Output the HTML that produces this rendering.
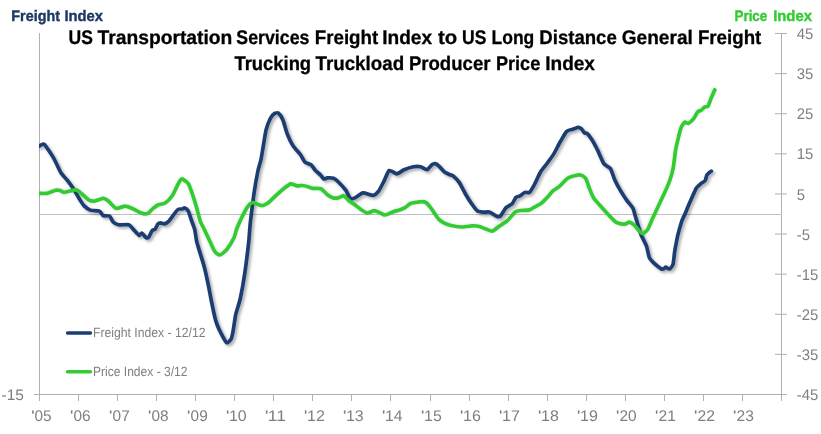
<!DOCTYPE html>
<html lang="en"><head><meta charset="utf-8"><title>Freight Index vs Price Index</title>
<style>
html,body{margin:0;padding:0;background:#fff;}
body{width:821px;height:434px;overflow:hidden;}
svg{display:block;font-family:"Liberation Sans",sans-serif;text-rendering:geometricPrecision;}
.ax{stroke:#b0b0b0;stroke-width:1;fill:none;shape-rendering:crispEdges;}
.lbl{fill:#7f7f7f;font-size:15.4px;}
.leg{fill:#7f7f7f;font-size:13.4px;}
.ttl{fill:#000;font-weight:bold;font-size:19.6px;stroke:#000;stroke-width:0.3px;}
.ln{fill:none;stroke-width:3.7;stroke-linejoin:round;stroke-linecap:round;}
</style></head><body>
<svg width="821" height="434" viewBox="0 0 821 434">
<defs><filter id="sh" filterUnits="userSpaceOnUse" x="0" y="0" width="821" height="434"><feGaussianBlur in="SourceAlpha" stdDeviation="1.4"/><feOffset dx="2.1" dy="2.1"/><feComponentTransfer><feFuncA type="linear" slope="0.34"/></feComponentTransfer><feMerge><feMergeNode/><feMergeNode in="SourceGraphic"/></feMerge></filter><filter id="gl" filterUnits="userSpaceOnUse" x="0" y="0" width="821" height="434"><feGaussianBlur in="SourceAlpha" stdDeviation="1.6"/><feComponentTransfer><feFuncA type="linear" slope="0.16"/></feComponentTransfer><feMerge><feMergeNode/><feMergeNode in="SourceGraphic"/></feMerge></filter></defs>
<clipPath id="cp"><rect x="39" y="0" width="782" height="434"/></clipPath>
<rect width="821" height="434" fill="#fff"/>

<g class="ax">
<line x1="39.5" y1="33" x2="39.5" y2="400.5"/>
<line x1="34" y1="394.5" x2="787" y2="394.5"/>
<line x1="781.5" y1="33" x2="781.5" y2="400.5"/>
<line x1="39.5" y1="214.5" x2="781.5" y2="214.5" stroke="#c0c0c0"/>
<line x1="78.5" y1="394.5" x2="78.5" y2="400.5"/>
<line x1="117.5" y1="394.5" x2="117.5" y2="400.5"/>
<line x1="156.5" y1="394.5" x2="156.5" y2="400.5"/>
<line x1="195.5" y1="394.5" x2="195.5" y2="400.5"/>
<line x1="234.5" y1="394.5" x2="234.5" y2="400.5"/>
<line x1="273.5" y1="394.5" x2="273.5" y2="400.5"/>
<line x1="312.5" y1="394.5" x2="312.5" y2="400.5"/>
<line x1="351.5" y1="394.5" x2="351.5" y2="400.5"/>
<line x1="390.5" y1="394.5" x2="390.5" y2="400.5"/>
<line x1="430.5" y1="394.5" x2="430.5" y2="400.5"/>
<line x1="469.5" y1="394.5" x2="469.5" y2="400.5"/>
<line x1="508.5" y1="394.5" x2="508.5" y2="400.5"/>
<line x1="547.5" y1="394.5" x2="547.5" y2="400.5"/>
<line x1="586.5" y1="394.5" x2="586.5" y2="400.5"/>
<line x1="625.5" y1="394.5" x2="625.5" y2="400.5"/>
<line x1="664.5" y1="394.5" x2="664.5" y2="400.5"/>
<line x1="703.5" y1="394.5" x2="703.5" y2="400.5"/>
<line x1="742.5" y1="394.5" x2="742.5" y2="400.5"/>
</g>
<g stroke="#b0b0b0" stroke-width="1" fill="none">
<line x1="775" y1="33.50" x2="787" y2="33.50"/>
<line x1="775" y1="73.61" x2="787" y2="73.61"/>
<line x1="775" y1="113.72" x2="787" y2="113.72"/>
<line x1="775" y1="153.83" x2="787" y2="153.83"/>
<line x1="775" y1="193.94" x2="787" y2="193.94"/>
<line x1="775" y1="234.05" x2="787" y2="234.05"/>
<line x1="775" y1="274.16" x2="787" y2="274.16"/>
<line x1="775" y1="314.27" x2="787" y2="314.27"/>
<line x1="775" y1="354.38" x2="787" y2="354.38"/>
</g>
<text class="lbl" x="796.8" y="39.1" textLength="16.6" lengthAdjust="spacingAndGlyphs">45</text>
<text class="lbl" x="796.8" y="79.2" textLength="16.6" lengthAdjust="spacingAndGlyphs">35</text>
<text class="lbl" x="796.8" y="119.3" textLength="16.6" lengthAdjust="spacingAndGlyphs">25</text>
<text class="lbl" x="796.8" y="159.4" textLength="16.6" lengthAdjust="spacingAndGlyphs">15</text>
<text class="lbl" x="796.8" y="199.5" textLength="8.3" lengthAdjust="spacingAndGlyphs">5</text>
<text class="lbl" x="796.8" y="239.7" textLength="13.2" lengthAdjust="spacingAndGlyphs">-5</text>
<text class="lbl" x="796.8" y="279.8" textLength="21.5" lengthAdjust="spacingAndGlyphs">-15</text>
<text class="lbl" x="796.8" y="319.9" textLength="21.5" lengthAdjust="spacingAndGlyphs">-25</text>
<text class="lbl" x="796.8" y="360.0" textLength="21.5" lengthAdjust="spacingAndGlyphs">-35</text>
<text class="lbl" x="796.8" y="400.1" textLength="21.5" lengthAdjust="spacingAndGlyphs">-45</text>
<text font-size="15.2" fill="#7f7f7f"><tspan x="1.58" y="400.2" textLength="22.34" lengthAdjust="spacingAndGlyphs">-15</tspan></text>
<text class="lbl"><tspan x="30.90" y="421.2" textLength="3.82" lengthAdjust="spacingAndGlyphs">'</tspan><tspan x="34.56" y="421.2" textLength="17.09" lengthAdjust="spacingAndGlyphs">05</tspan></text>
<text class="lbl"><tspan x="69.89" y="421.2" textLength="3.82" lengthAdjust="spacingAndGlyphs">'</tspan><tspan x="73.57" y="421.2" textLength="17.09" lengthAdjust="spacingAndGlyphs">06</tspan></text>
<text class="lbl"><tspan x="108.88" y="421.2" textLength="3.82" lengthAdjust="spacingAndGlyphs">'</tspan><tspan x="112.58" y="421.2" textLength="17.17" lengthAdjust="spacingAndGlyphs">07</tspan></text>
<text class="lbl"><tspan x="147.87" y="421.2" textLength="3.82" lengthAdjust="spacingAndGlyphs">'</tspan><tspan x="151.59" y="421.2" textLength="17.09" lengthAdjust="spacingAndGlyphs">08</tspan></text>
<text class="lbl"><tspan x="186.86" y="421.2" textLength="3.82" lengthAdjust="spacingAndGlyphs">'</tspan><tspan x="190.60" y="421.2" textLength="17.17" lengthAdjust="spacingAndGlyphs">09</tspan></text>
<text class="lbl"><tspan x="225.85" y="421.2" textLength="3.82" lengthAdjust="spacingAndGlyphs">'</tspan><tspan x="228.96" y="421.2" textLength="17.69" lengthAdjust="spacingAndGlyphs">10</tspan></text>
<text class="lbl"><tspan x="264.84" y="421.2" textLength="3.82" lengthAdjust="spacingAndGlyphs">'</tspan><tspan x="267.86" y="421.2" textLength="18.04" lengthAdjust="spacingAndGlyphs">11</tspan></text>
<text class="lbl"><tspan x="303.83" y="421.2" textLength="3.82" lengthAdjust="spacingAndGlyphs">'</tspan><tspan x="306.97" y="421.2" textLength="17.86" lengthAdjust="spacingAndGlyphs">12</tspan></text>
<text class="lbl"><tspan x="342.82" y="421.2" textLength="3.82" lengthAdjust="spacingAndGlyphs">'</tspan><tspan x="345.98" y="421.2" textLength="17.78" lengthAdjust="spacingAndGlyphs">13</tspan></text>
<text class="lbl"><tspan x="381.81" y="421.2" textLength="3.82" lengthAdjust="spacingAndGlyphs">'</tspan><tspan x="385.01" y="421.2" textLength="17.51" lengthAdjust="spacingAndGlyphs">14</tspan></text>
<text class="lbl"><tspan x="420.80" y="421.2" textLength="3.82" lengthAdjust="spacingAndGlyphs">'</tspan><tspan x="424.00" y="421.2" textLength="17.78" lengthAdjust="spacingAndGlyphs">15</tspan></text>
<text class="lbl"><tspan x="459.79" y="421.2" textLength="3.82" lengthAdjust="spacingAndGlyphs">'</tspan><tspan x="463.01" y="421.2" textLength="17.78" lengthAdjust="spacingAndGlyphs">16</tspan></text>
<text class="lbl"><tspan x="498.78" y="421.2" textLength="3.82" lengthAdjust="spacingAndGlyphs">'</tspan><tspan x="502.02" y="421.2" textLength="17.86" lengthAdjust="spacingAndGlyphs">17</tspan></text>
<text class="lbl"><tspan x="537.77" y="421.2" textLength="3.82" lengthAdjust="spacingAndGlyphs">'</tspan><tspan x="541.03" y="421.2" textLength="17.78" lengthAdjust="spacingAndGlyphs">18</tspan></text>
<text class="lbl"><tspan x="576.76" y="421.2" textLength="3.82" lengthAdjust="spacingAndGlyphs">'</tspan><tspan x="580.04" y="421.2" textLength="17.86" lengthAdjust="spacingAndGlyphs">19</tspan></text>
<text class="lbl"><tspan x="615.75" y="421.2" textLength="3.82" lengthAdjust="spacingAndGlyphs">'</tspan><tspan x="619.47" y="421.2" textLength="17.25" lengthAdjust="spacingAndGlyphs">20</tspan></text>
<text class="lbl"><tspan x="654.74" y="421.2" textLength="3.82" lengthAdjust="spacingAndGlyphs">'</tspan><tspan x="658.48" y="421.2" textLength="17.42" lengthAdjust="spacingAndGlyphs">21</tspan></text>
<text class="lbl"><tspan x="693.73" y="421.2" textLength="3.82" lengthAdjust="spacingAndGlyphs">'</tspan><tspan x="697.49" y="421.2" textLength="17.42" lengthAdjust="spacingAndGlyphs">22</tspan></text>
<text class="lbl"><tspan x="732.72" y="421.2" textLength="3.82" lengthAdjust="spacingAndGlyphs">'</tspan><tspan x="736.50" y="421.2" textLength="17.34" lengthAdjust="spacingAndGlyphs">23</tspan></text>
<text font-size="15.2" fill="#1f3864" stroke="#1f3864" stroke-width="0.4" font-weight="bold"><tspan x="11.37" y="21.3" textLength="48.56" lengthAdjust="spacingAndGlyphs">Freight</tspan> <tspan x="64.44" y="21.3" textLength="38.56" lengthAdjust="spacingAndGlyphs">Index</tspan></text>
<text font-size="15.2" fill="#33cc33" stroke="#33cc33" stroke-width="0.4" font-weight="bold"><tspan x="734.43" y="20.8" textLength="32.90" lengthAdjust="spacingAndGlyphs">Price</tspan> <tspan x="773.14" y="20.8" textLength="38.77" lengthAdjust="spacingAndGlyphs">Index</tspan></text>
<text class="ttl"><tspan x="68.5" y="43.7" textLength="24.4" lengthAdjust="spacingAndGlyphs">US</tspan> <tspan x="97.5" y="43.7" textLength="134.9" lengthAdjust="spacingAndGlyphs">Transportation</tspan> <tspan x="236.3" y="43.7" textLength="73.1" lengthAdjust="spacingAndGlyphs">Services</tspan> <tspan x="314.8" y="43.7" textLength="63.4" lengthAdjust="spacingAndGlyphs">Freight</tspan> <tspan x="382.2" y="43.7" textLength="49.9" lengthAdjust="spacingAndGlyphs">Index</tspan> <tspan x="438.0" y="43.7" textLength="19.2" lengthAdjust="spacingAndGlyphs">to</tspan> <tspan x="462.1" y="43.7" textLength="24.4" lengthAdjust="spacingAndGlyphs">US</tspan> <tspan x="491.5" y="43.7" textLength="42.8" lengthAdjust="spacingAndGlyphs">Long</tspan> <tspan x="539.3" y="43.7" textLength="77.5" lengthAdjust="spacingAndGlyphs">Distance</tspan> <tspan x="621.8" y="43.7" textLength="71.0" lengthAdjust="spacingAndGlyphs">General</tspan> <tspan x="697.9" y="43.7" textLength="63.4" lengthAdjust="spacingAndGlyphs">Freight</tspan></text>
<text class="ttl"><tspan x="234.5" y="69.8" textLength="76.6" lengthAdjust="spacingAndGlyphs">Trucking</tspan> <tspan x="315.5" y="69.8" textLength="88.6" lengthAdjust="spacingAndGlyphs">Truckload</tspan> <tspan x="408.9" y="69.8" textLength="81.6" lengthAdjust="spacingAndGlyphs">Producer</tspan> <tspan x="495.9" y="69.8" textLength="44.4" lengthAdjust="spacingAndGlyphs">Price</tspan> <tspan x="545.2" y="69.8" textLength="49.8" lengthAdjust="spacingAndGlyphs">Index</tspan></text>
<line x1="67.6" y1="333" x2="90.4" y2="333" stroke="#1c3d72" stroke-width="3.6" stroke-linecap="round"/>
<line x1="67.6" y1="371.7" x2="90.4" y2="371.7" stroke="#33cc33" stroke-width="3.6" stroke-linecap="round"/>
<text class="leg" x="93" y="337" textLength="112.5" lengthAdjust="spacingAndGlyphs">Freight Index - 12/12</text>
<text class="leg" x="93" y="375.7" textLength="94.5" lengthAdjust="spacingAndGlyphs">Price Index - 3/12</text>
<g filter="url(#sh)" clip-path="url(#cp)"><path class="ln" stroke="#1c3d72" d="M39.5,146.0C40.0,145.8 42.9,143.1 44.3,144.3C45.7,145.5 52.2,155.5 53.8,158.3C55.4,161.1 59.4,170.2 60.7,172.4C62.0,174.6 65.9,178.5 67.2,180.2C68.5,181.9 72.7,187.6 73.9,189.5C75.1,191.4 78.3,197.2 79.3,198.8C80.3,200.4 82.8,204.5 83.9,205.6C85.0,206.7 88.8,209.5 90.3,210.1C91.8,210.7 98.1,210.5 99.4,211.1C100.7,211.7 102.1,215.1 103.1,215.6C104.1,216.1 108.5,215.4 109.5,216.0C110.5,216.6 112.2,221.1 113.1,222.0C114.0,222.9 117.0,224.5 118.6,224.8C120.2,225.1 127.1,224.3 128.7,224.8C130.2,225.3 133.1,229.1 134.1,230.2C135.1,231.3 138.3,235.1 139.1,235.4C139.9,235.7 141.1,232.8 141.8,233.0C142.5,233.2 145.3,237.2 146.0,237.6C146.7,238.0 148.2,237.7 148.8,237.0C149.4,236.3 151.4,231.6 152.0,230.8C152.6,230.0 154.6,229.7 155.2,229.0C155.8,228.3 157.4,224.5 157.9,223.9C158.4,223.3 160.0,222.9 160.6,222.9C161.2,222.9 163.5,224.1 164.3,223.9C165.1,223.7 167.9,222.1 168.9,221.1C169.9,220.1 173.4,215.0 174.3,213.8C175.2,212.6 177.5,209.8 178.3,209.3C179.1,208.8 181.3,209.1 181.9,209.0C182.5,208.9 184.1,207.7 184.7,207.9C185.3,208.1 187.7,210.0 188.3,211.2C188.9,212.3 190.5,217.6 191.1,219.4C191.7,221.2 194.1,227.1 194.7,229.4C195.3,231.7 195.9,238.4 196.8,242.0C197.7,245.6 202.6,260.9 203.8,265.2C205.0,269.5 207.7,281.9 208.4,285.3C209.1,288.7 210.4,296.1 211.1,299.6C211.8,303.1 214.9,317.6 215.7,320.6C216.5,323.6 218.2,327.6 219.3,329.8C220.4,332.0 225.4,341.7 226.6,342.6C227.8,343.5 230.6,340.0 231.2,338.9C231.8,337.8 232.5,334.1 233.0,331.6C233.5,329.1 235.1,317.5 235.8,314.2C236.5,310.9 239.4,302.7 240.3,298.5C241.2,294.3 244.1,278.0 244.9,272.5C245.7,267.0 248.0,248.4 248.6,243.3C249.2,238.2 249.8,227.0 250.4,222.0C251.0,217.0 253.3,198.0 254.1,192.9C254.8,187.8 257.2,174.4 257.9,171.0C258.6,167.6 260.4,162.6 261.2,158.5C262.0,154.4 265.1,134.1 266.0,130.1C266.9,126.1 269.5,120.2 270.3,118.5C271.1,116.8 273.5,114.1 274.3,113.6C275.1,113.1 277.7,112.6 278.6,113.3C279.5,114.0 282.0,118.0 282.9,120.1C283.8,122.2 286.5,132.1 287.5,134.7C288.5,137.3 291.7,143.7 293.0,145.7C294.3,147.7 299.1,152.9 300.3,154.5C301.5,156.1 303.7,160.9 304.8,162.0C305.9,163.1 310.2,164.2 311.2,165.0C312.2,165.8 314.3,169.2 315.2,170.2C316.1,171.2 319.5,174.0 320.4,174.9C321.3,175.8 323.1,178.7 323.8,179.0C324.5,179.3 326.4,178.0 327.4,177.9C328.4,177.8 332.4,177.9 333.5,178.3C334.6,178.7 337.2,180.8 338.4,182.0C339.6,183.2 344.5,188.6 345.7,190.2C346.9,191.8 349.3,197.6 350.2,198.4C351.1,199.2 353.5,198.5 354.8,197.9C356.1,197.3 361.2,193.2 363.0,192.9C364.8,192.6 371.5,195.5 373.1,195.3C374.7,195.1 377.5,192.5 378.6,191.1C379.7,189.7 382.9,183.2 384.0,181.1C385.1,179.0 387.9,171.2 389.2,170.5C390.5,169.8 395.3,173.9 396.8,173.8C398.3,173.7 402.5,170.4 404.1,169.7C405.8,169.0 411.7,167.1 413.3,166.8C414.9,166.5 419.2,166.5 420.6,166.8C422.0,167.1 425.9,169.9 427.0,169.7C428.1,169.5 430.8,165.6 431.6,165.0C432.4,164.4 434.5,163.6 435.2,163.7C435.9,163.8 438.0,165.3 438.9,166.1C439.8,166.9 443.2,171.0 444.3,171.9C445.4,172.8 449.1,174.3 450.0,174.7C450.9,175.1 452.8,175.5 453.7,176.3C454.6,177.1 458.0,180.6 459.2,182.4C460.4,184.2 464.3,192.0 465.6,194.2C466.9,196.4 470.8,202.6 472.0,204.3C473.2,206.0 476.3,210.2 477.5,211.0C478.7,211.8 482.7,212.0 483.9,212.1C485.1,212.2 488.0,211.7 489.3,212.1C490.6,212.5 495.5,215.8 496.6,216.2C497.7,216.6 499.4,217.0 500.3,216.2C501.2,215.4 504.6,209.2 505.8,207.9C507.0,206.7 511.2,204.7 512.2,203.7C513.2,202.7 515.1,198.3 515.8,197.5C516.5,196.7 518.6,196.6 519.5,196.1C520.4,195.6 524.0,192.8 525.0,192.4C526.0,192.0 528.6,193.1 529.5,192.4C530.4,191.7 533.0,187.1 534.1,185.1C535.2,183.1 539.2,174.2 540.5,172.0C541.8,169.8 546.1,164.8 547.4,163.0C548.7,161.2 552.5,156.0 553.8,153.9C555.1,151.8 558.8,144.2 560.1,142.0C561.4,139.8 565.2,132.9 566.5,131.6C567.8,130.3 571.8,129.6 572.9,129.2C574.0,128.8 577.1,127.5 577.9,127.4C578.7,127.3 580.6,128.1 581.2,128.6C581.9,129.1 583.8,132.3 584.4,132.8C585.0,133.3 586.8,133.1 587.6,133.8C588.4,134.5 591.1,138.5 592.1,140.1C593.1,141.7 596.4,147.8 597.6,150.2C598.8,152.6 602.7,162.1 604.0,163.9C605.3,165.7 609.3,166.9 610.4,168.5C611.5,170.1 613.8,177.8 614.8,180.0C615.8,182.2 619.0,188.1 620.2,190.1C621.4,192.1 625.3,198.3 626.6,200.1C627.9,201.9 632.2,206.9 633.0,208.4C633.8,209.9 634.4,213.0 634.9,214.8C635.4,216.6 637.9,224.6 638.5,226.6C639.1,228.6 640.3,232.7 641.1,234.7C641.9,236.7 645.8,244.2 646.6,246.5C647.4,248.8 648.5,255.8 649.3,257.5C650.1,259.2 653.6,262.8 654.8,263.9C656.0,265.0 660.3,268.3 661.2,268.8C662.1,269.3 663.1,269.0 663.6,268.8C664.1,268.6 665.3,267.2 665.8,267.2C666.3,267.2 668.0,268.7 668.5,268.8C669.0,268.9 669.8,269.0 670.3,268.5C670.8,268.0 672.6,265.7 673.1,263.9C673.6,262.1 674.4,253.0 674.9,250.2C675.4,247.4 677.0,238.5 677.7,235.6C678.4,232.7 681.1,223.2 681.8,221.0C682.5,218.8 684.5,215.2 685.0,214.0C685.5,212.8 686.6,210.0 687.2,208.5C687.8,207.0 690.3,201.2 691.2,199.2C692.1,197.2 695.3,189.9 696.1,188.5C696.9,187.1 698.4,186.0 698.8,185.5C699.2,185.0 700.1,184.2 700.5,183.9C700.9,183.6 702.2,182.7 702.7,182.4C703.2,182.1 704.8,181.1 705.1,180.6C705.4,180.1 705.9,178.3 706.1,177.7C706.3,177.1 706.6,175.5 706.9,175.0C707.2,174.5 708.6,173.2 709.0,172.8C709.4,172.4 711.1,171.3 711.3,171.1"/></g>
<g filter="url(#gl)" clip-path="url(#cp)"><path class="ln" stroke="#33cc33" d="M39.5,193.3C40.2,193.3 44.8,193.7 46.4,193.4C48.0,193.1 54.2,190.5 55.6,190.2C57.0,189.9 59.2,190.3 60.1,190.5C61.0,190.7 62.6,192.4 64.2,192.3C65.8,192.2 74.0,189.7 75.7,189.8C77.4,189.9 79.9,192.3 81.2,193.3C82.5,194.3 87.2,199.0 88.5,199.8C89.8,200.6 92.5,201.3 94.0,201.2C95.5,201.1 101.7,198.5 103.1,198.4C104.5,198.3 106.8,199.7 108.1,200.7C109.4,201.7 114.2,207.8 115.9,208.3C117.6,208.9 123.4,206.2 125.0,206.2C126.6,206.2 130.8,207.9 132.3,208.5C133.8,209.1 138.5,211.8 139.6,212.3C140.7,212.8 142.5,213.4 143.2,213.6C143.9,213.8 145.6,213.9 146.2,213.8C146.8,213.7 148.5,212.9 149.2,212.4C149.9,211.9 151.9,209.3 152.8,208.6C153.7,207.9 156.7,205.6 157.9,205.0C159.1,204.4 163.7,204.0 165.2,203.0C166.7,202.0 171.3,197.1 172.6,195.2C173.9,193.3 177.4,185.2 178.3,183.6C179.2,182.0 180.8,178.9 181.8,178.9C182.8,178.9 187.4,182.3 188.5,184.0C189.6,185.7 192.1,193.3 192.9,195.6C193.7,197.9 195.7,204.4 196.3,206.6C196.9,208.8 198.8,215.9 199.2,217.5C199.6,219.1 200.3,221.4 200.8,222.6C201.3,223.8 203.6,227.9 204.4,229.6C205.2,231.3 208.3,237.8 209.3,240.0C210.3,242.2 213.7,250.0 214.8,251.5C215.9,253.0 218.8,255.2 220.0,255.0C221.2,254.8 225.2,251.4 226.6,249.7C228.0,248.0 233.0,239.9 234.0,237.8C235.0,235.7 235.9,231.1 236.7,229.0C237.5,226.9 241.1,218.8 242.2,216.6C243.3,214.4 246.7,208.0 247.7,206.6C248.7,205.2 251.4,202.9 252.3,202.6C253.2,202.3 255.8,203.6 256.8,203.9C257.8,204.2 261.1,205.8 262.3,205.7C263.5,205.5 267.2,203.5 268.7,202.4C270.2,201.3 275.3,196.1 276.9,194.7C278.4,193.3 282.8,189.4 284.2,188.3C285.6,187.2 289.3,184.0 290.6,183.8C291.9,183.6 295.8,185.7 297.0,185.9C298.2,186.1 301.5,185.4 302.5,185.5C303.5,185.6 306.3,186.2 307.3,186.5C308.3,186.8 311.4,188.2 312.8,188.4C314.2,188.6 319.5,188.1 321.0,188.7C322.5,189.3 326.2,193.9 327.4,194.8C328.6,195.7 331.8,197.6 332.9,197.9C334.0,198.2 337.3,198.1 338.4,197.9C339.5,197.7 342.9,195.5 343.9,195.7C344.9,195.9 347.3,199.3 348.4,200.2C349.5,201.1 353.4,203.8 354.8,204.8C356.2,205.8 360.8,209.5 362.1,210.3C363.4,211.1 366.4,213.0 367.6,213.0C368.8,213.0 373.0,210.8 374.0,210.7C375.0,210.6 376.7,211.4 377.7,211.8C378.7,212.2 383.0,214.7 384.0,214.9C385.0,215.2 386.8,214.6 387.7,214.3C388.6,214.0 392.0,212.2 393.2,211.8C394.4,211.4 398.4,210.3 399.6,209.9C400.8,209.5 404.0,208.2 405.1,207.6C406.2,207.0 409.3,204.0 410.5,203.5C411.7,203.0 415.8,202.4 416.9,202.2C418.0,202.0 420.6,201.7 421.5,201.7C422.4,201.7 425.2,202.0 426.1,202.6C427.0,203.2 429.8,206.6 430.6,207.6C431.4,208.6 433.5,211.8 434.3,213.0C435.1,214.2 437.9,218.4 438.9,219.4C439.9,220.4 443.2,222.6 444.3,223.2C445.4,223.8 448.2,224.9 450.0,225.3C451.8,225.7 459.7,226.9 461.9,227.0C464.1,227.1 470.4,225.9 472.0,225.8C473.6,225.7 477.0,225.9 478.4,226.2C479.8,226.5 484.3,228.4 485.7,228.9C487.1,229.4 490.8,231.4 492.1,231.2C493.4,231.0 496.9,227.9 498.5,226.8C500.1,225.7 506.0,221.9 507.6,220.5C509.2,219.1 513.6,213.3 514.9,212.3C516.2,211.3 518.9,210.7 520.4,210.5C521.9,210.3 528.0,210.3 529.5,209.9C531.0,209.5 533.8,207.5 535.0,206.8C536.2,206.1 540.1,204.2 541.4,203.2C542.7,202.2 546.7,198.0 547.8,196.8C548.9,195.6 551.3,192.3 552.4,191.3C553.5,190.3 557.3,188.2 558.8,186.9C560.3,185.6 566.1,179.4 567.7,178.3C569.3,177.2 573.2,176.0 574.5,175.7C575.8,175.4 579.4,174.7 580.5,175.0C581.6,175.3 584.9,177.3 585.8,178.6C586.7,179.9 588.6,186.3 589.4,188.3C590.2,190.3 592.7,196.6 593.8,198.3C594.9,200.0 598.6,203.9 600.1,205.6C601.6,207.2 606.8,213.2 608.4,214.8C610.0,216.5 614.4,221.2 615.7,222.1C617.0,223.0 620.2,223.7 621.2,223.9C622.2,224.1 624.9,224.1 625.7,223.9C626.5,223.7 628.6,222.0 629.4,222.1C630.2,222.2 633.0,223.9 634.0,224.8C635.0,225.7 638.5,230.3 639.4,231.2C640.3,232.1 642.3,233.8 643.1,233.6C643.9,233.4 646.8,230.8 647.7,229.4C648.6,228.0 651.2,221.5 652.2,219.3C653.2,217.1 656.5,210.1 657.7,207.5C658.9,204.9 662.9,196.5 664.1,193.8C665.3,191.2 668.7,183.6 669.6,181.0C670.5,178.4 672.6,171.1 673.2,168.0C673.8,164.9 675.1,153.0 675.6,150.0C676.1,147.0 677.9,139.8 678.4,137.6C678.9,135.4 680.5,129.2 681.1,127.6C681.7,126.0 684.1,122.5 684.8,122.1C685.5,121.7 687.5,123.8 688.4,123.4C689.3,123.0 693.0,119.5 693.9,118.4C694.8,117.3 696.9,112.8 697.6,112.0C698.3,111.2 700.5,110.7 701.2,110.2C701.9,109.7 704.2,107.3 704.9,106.9C705.6,106.5 707.4,107.1 708.0,106.2C708.6,105.3 710.6,99.4 711.3,97.8C712.0,96.2 714.4,90.6 714.8,89.8"/></g>
</svg>
</body></html>
